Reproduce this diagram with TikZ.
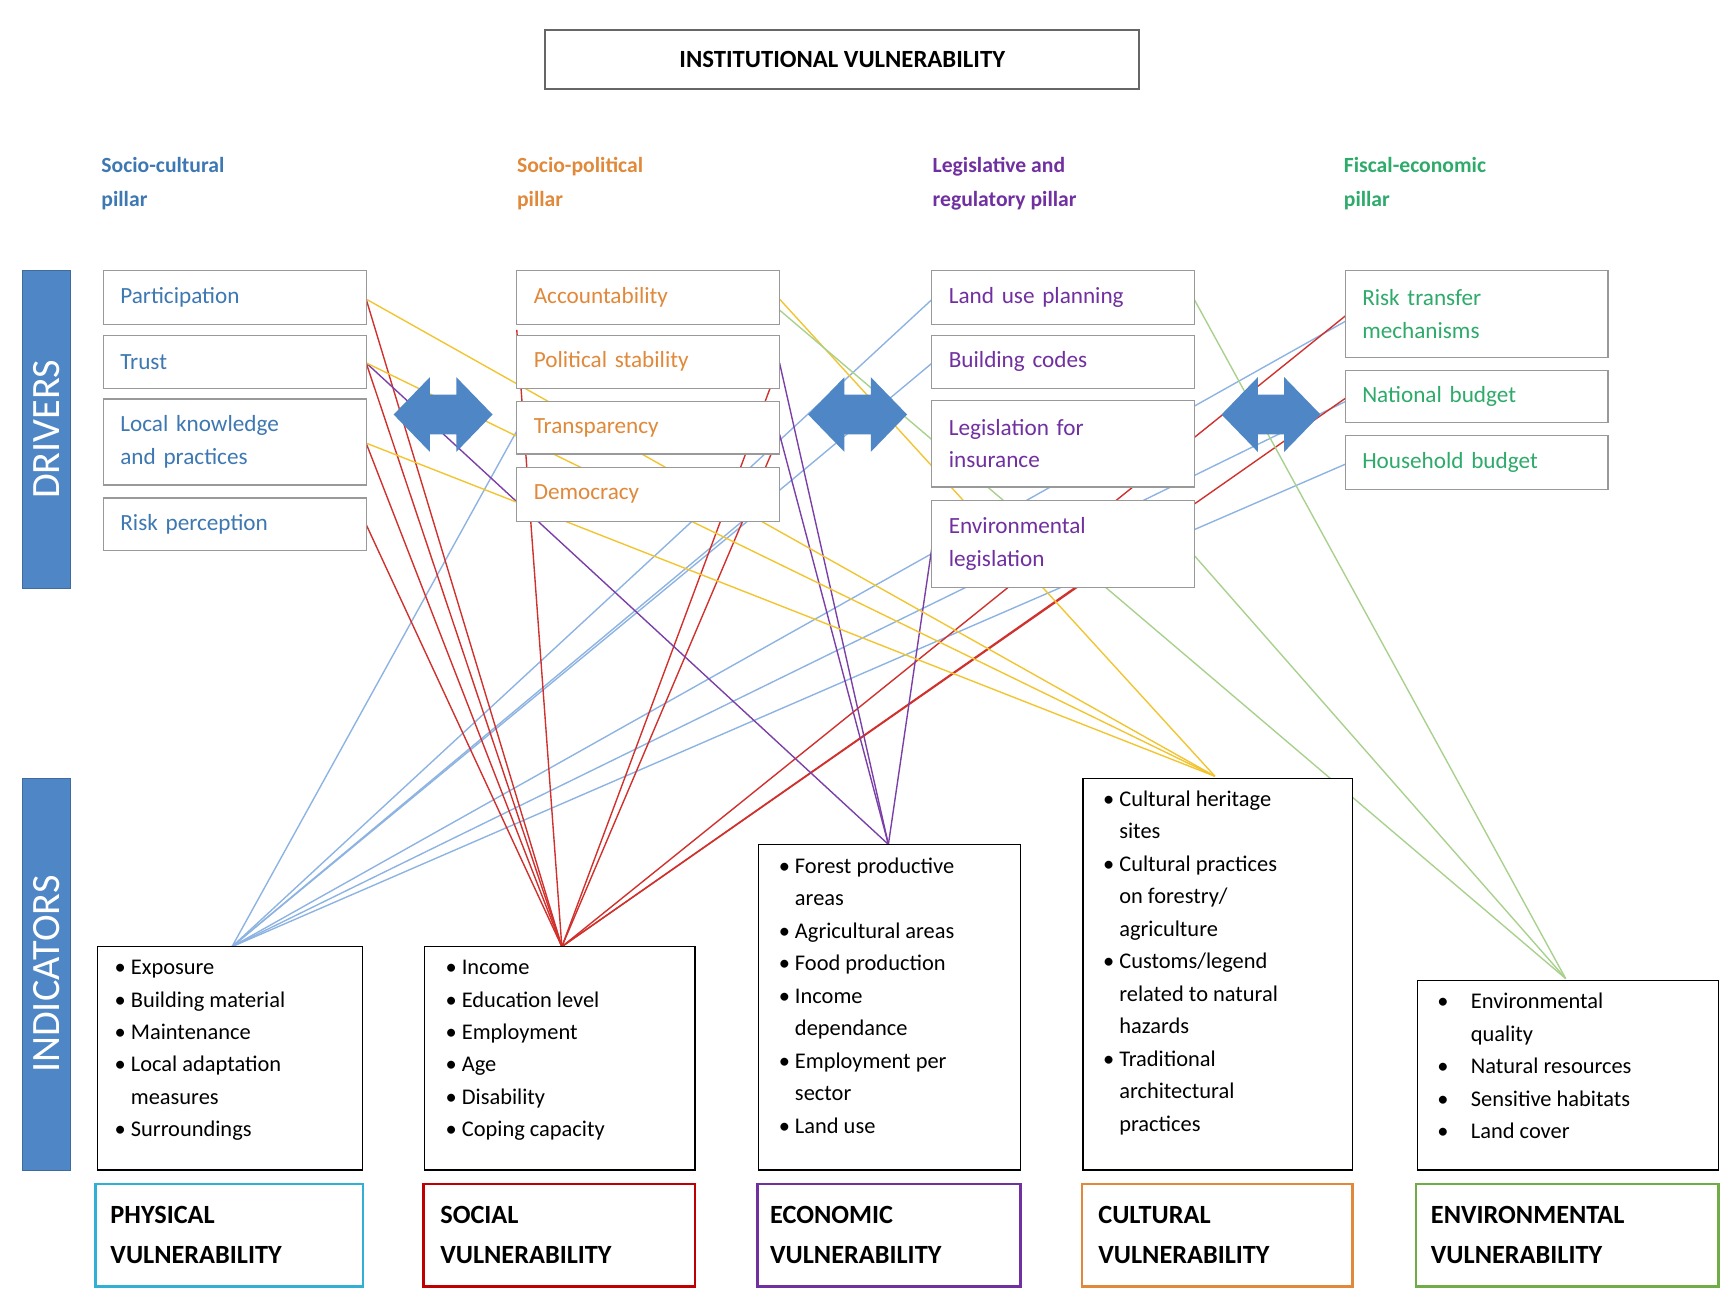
\documentclass[tikz,border=0pt]{standalone}
\usepackage{fontspec}
\setmainfont{Carlito}
\usetikzlibrary{positioning}

\definecolor{scblue}{HTML}{3E78B2}
\definecolor{sporange}{HTML}{E0893A}
\definecolor{lgpurple}{HTML}{7030A0}
\definecolor{fegreen}{HTML}{2EAA6A}
\definecolor{barblue}{HTML}{4F86C6}
\definecolor{lnblue}{HTML}{8DB3E2}
\definecolor{lnred}{HTML}{D0312D}
\definecolor{lnpurple}{HTML}{7B3FA8}
\definecolor{lnyellow}{HTML}{F2C530}
\definecolor{lngreen}{HTML}{A9D18E}
\definecolor{physcol}{HTML}{31B0D5}
\definecolor{soccol}{HTML}{C00000}
\definecolor{enccol}{HTML}{70AD47}

\tikzset{
  drv/.style={draw=gray!80, fill=white, line width=0.8pt, minimum width=5.975cm,
    text width=5.2cm, align=left, font=\fontsize{15}{21}\selectfont, inner sep=0pt},
  lst/.style={draw=black, fill=white, line width=0.8pt, inner sep=0pt},
  lsttxt/.style={anchor=north west, align=left, font=\fontsize{14.5}{21}\selectfont, inner sep=0pt},
  vul/.style={draw, line width=1.6pt, minimum height=2.325cm, text width=5.4cm, align=left,
    font=\fontsize{17}{26}\selectfont\bfseries, inner sep=0pt},
  bar/.style={fill=barblue, draw=barblue!80!black, minimum height=1.1cm, text=white,
    font=\fontsize{26}{30}\selectfont, rotate=90, inner sep=0pt},
  pil/.style={anchor=north west, align=left, font=\fontsize{14}{22}\selectfont\bfseries, inner sep=0pt},
  lnk/.style={line width=0.9pt}
}
\newcommand{\dblarrow}[1]{%
  \fill[barblue] (#1) ++(-45,0) -- ++(33,-34) -- ++(0,16) -- ++(24,0) -- ++(0,-16)
    -- ++(33,34) -- ++(-33,34) -- ++(0,-16) -- ++(-24,0) -- ++(0,16) -- cycle;}

\begin{document}
\begin{tikzpicture}[x=0.025cm,y=-0.025cm]
\useasboundingbox (0,0) rectangle (1568,1186);

% title
\node[draw=gray!80!black, line width=1.2pt, minimum width=13.5cm, minimum height=1.35cm,
  font=\fontsize{16}{20}\selectfont\bfseries] (title) at (766,54) {INSTITUTIONAL VULNERABILITY};

% pillars
\node[pil, text=scblue] (pilsc) at (92,143) {Socio-cultural\\pillar};
\node[pil, text=sporange] (pilsp) at (470,143) {Socio-political\\pillar};
\node[pil, text=lgpurple] (pillg) at (848,143) {Legislative and\\regulatory pillar};
\node[pil, text=fegreen] (pilfe) at (1222,143) {Fiscal-economic\\pillar};

% side bars
\node[bar, minimum width=7.225cm] (drivers) at (42,390.5) {DRIVERS};
\node[bar, minimum width=8.9cm] (indicators) at (42,886) {INDICATORS};

% hubs
\coordinate (hphys) at (211,861);
\coordinate (hsoc) at (511,861);
\coordinate (hecon) at (808,768);
\coordinate (hcult) at (1105,706);
\coordinate (henv) at (1424,890);

% links
\begin{scope}[lnk, lnblue]
\draw (hphys) -- (470,392);
\draw (hphys) -- (709,450);
\draw (hphys) -- (848,272);
\draw (hphys) -- (848,330);
\draw (hphys) -- (1224,292);
\draw (hphys) -- (1224,365);
\draw (hphys) -- (1224,422);
\end{scope}
\begin{scope}[lnk, lnred]
\draw (hsoc) -- (333,272);
\draw (hsoc) -- (333,330);
\draw (hsoc) -- (333,403);
\draw (hsoc) -- (333,477);
\draw (hsoc) -- (470,300);
\draw (hsoc) -- (709,330);
\draw (hsoc) -- (709,395);
\draw (hsoc) -- (1224,287);
\draw (hsoc) -- (1224,362);
\draw (hsoc) -- (1086,460);
\end{scope}
\begin{scope}[lnk, lnpurple]
\draw (hecon) -- (333,330);
\draw (hecon) -- (709,330);
\draw (hecon) -- (709,395);
\draw (hecon) -- (848,495);
\end{scope}
\begin{scope}[lnk, lnyellow]
\draw (hcult) -- (333,272);
\draw (hcult) -- (333,330);
\draw (hcult) -- (333,403);
\draw (hcult) -- (709,272);
\end{scope}
\begin{scope}[lnk, lngreen]
\draw (henv) -- (1086,272);
\draw (henv) -- (1086,505);
\draw (henv) -- (709,282);
\end{scope}

% socio-cultural drivers
\begin{scope}[text=scblue]
\node[drv, minimum height=1.225cm] (part) at (213.5,270.5) {Participation};
\node[drv, minimum height=1.2cm] (trust) at (213.5,329) {Trust};
\node[drv, minimum height=1.95cm] (lkp) at (213.5,402) {Local knowledge\\and practices};
\node[drv, minimum height=1.2cm] (riskp) at (213.5,477) {Risk perception};
\end{scope}
% socio-political drivers
\begin{scope}[text=sporange]
\node[drv, minimum height=1.225cm] (acc) at (589.5,270.5) {Accountability};
\node[drv, minimum height=1.2cm] (polstab) at (589.5,329) {Political stability};
\node[drv, minimum height=1.2cm] (transp) at (589.5,389) {Transparency};
\node[drv, minimum height=1.225cm] (democ) at (589.5,449.5) {Democracy};
\end{scope}
% legislative drivers
\begin{scope}[text=lgpurple]
\node[drv, minimum height=1.225cm] (landuse) at (967,270.5) {Land use planning};
\node[drv, minimum height=1.2cm] (bcodes) at (967,329) {Building codes};
\node[drv, minimum height=1.975cm] (legins) at (967,403.5) {Legislation for\\insurance};
\node[drv, minimum height=1.975cm] (envleg) at (967,494.5) {Environmental\\legislation};
\end{scope}
% fiscal drivers
\begin{scope}[text=fegreen]
\node[drv, minimum height=1.975cm] (risktr) at (1343,285.5) {Risk transfer\\mechanisms};
\node[drv, minimum height=1.175cm] (natbud) at (1343,360.5) {National budget};
\node[drv, minimum height=1.225cm] (hhbud) at (1343,420.5) {Household budget};
\end{scope}

\dblarrow{403,377}
\dblarrow{780,377}
\dblarrow{1156,377}

% indicator lists
\node[lst, minimum width=6.025cm, minimum height=5.075cm] (lphys) at (209.5,962.5) {};
\node[lsttxt] (tphys) at (104,873) {\textbullet~Exposure\\\textbullet~Building material\\\textbullet~Maintenance\\\textbullet~Local adaptation\\\hphantom{\textbullet~}measures\\\textbullet~Surroundings};
\node[lst, minimum width=6.15cm, minimum height=5.075cm] (lsoc) at (509,962.5) {};
\node[lsttxt] (tsoc) at (405,873) {\textbullet~Income\\\textbullet~Education level\\\textbullet~Employment\\\textbullet~Age\\\textbullet~Disability\\\textbullet~Coping capacity};
\node[lst, minimum width=5.95cm, minimum height=7.4cm] (lecon) at (809,916) {};
\node[lsttxt] (tecon) at (708,780) {\textbullet~Forest productive\\\hphantom{\textbullet~}areas\\\textbullet~Agricultural areas\\\textbullet~Food production\\\textbullet~Income\\\hphantom{\textbullet~}dependance\\\textbullet~Employment per\\\hphantom{\textbullet~}sector\\\textbullet~Land use};
\node[lst, minimum width=6.125cm, minimum height=8.9cm] (lcult) at (1107.5,886) {};
\node[lsttxt] (tcult) at (1003,719) {\textbullet~Cultural heritage\\\hphantom{\textbullet~}sites\\\textbullet~Cultural practices\\\hphantom{\textbullet~}on forestry/\\\hphantom{\textbullet~}agriculture\\\textbullet~Customs/legend\\\hphantom{\textbullet~}related to natural\\\hphantom{\textbullet~}hazards\\\textbullet~Traditional\\\hphantom{\textbullet~}architectural\\\hphantom{\textbullet~}practices};
\node[lst, minimum width=6.85cm, minimum height=4.3cm] (lenv) at (1426,978) {};
\node[lsttxt] (tenv) at (1307,903) {\textbullet\quad Environmental\\\hphantom{\textbullet\quad }quality\\\textbullet\quad Natural resources\\\textbullet\quad Sensitive habitats\\\textbullet\quad Land cover};

% vulnerability labels
\node[vul, draw=physcol, minimum width=6.075cm] (vphys) at (208.5,1123.5) {PHYSICAL\\VULNERABILITY};
\node[vul, draw=soccol, minimum width=6.175cm] (vsoc) at (508.5,1123.5) {SOCIAL\\VULNERABILITY};
\node[vul, draw=lgpurple, minimum width=5.975cm] (vecon) at (808.5,1123.5) {ECONOMIC\\VULNERABILITY};
\node[vul, draw=sporange, minimum width=6.15cm] (vcult) at (1107,1123.5) {CULTURAL\\VULNERABILITY};
\node[vul, draw=enccol, minimum width=6.875cm, text width=6.2cm] (venv) at (1425.5,1123.5) {ENVIRONMENTAL\\VULNERABILITY};
\end{tikzpicture}
\end{document}
